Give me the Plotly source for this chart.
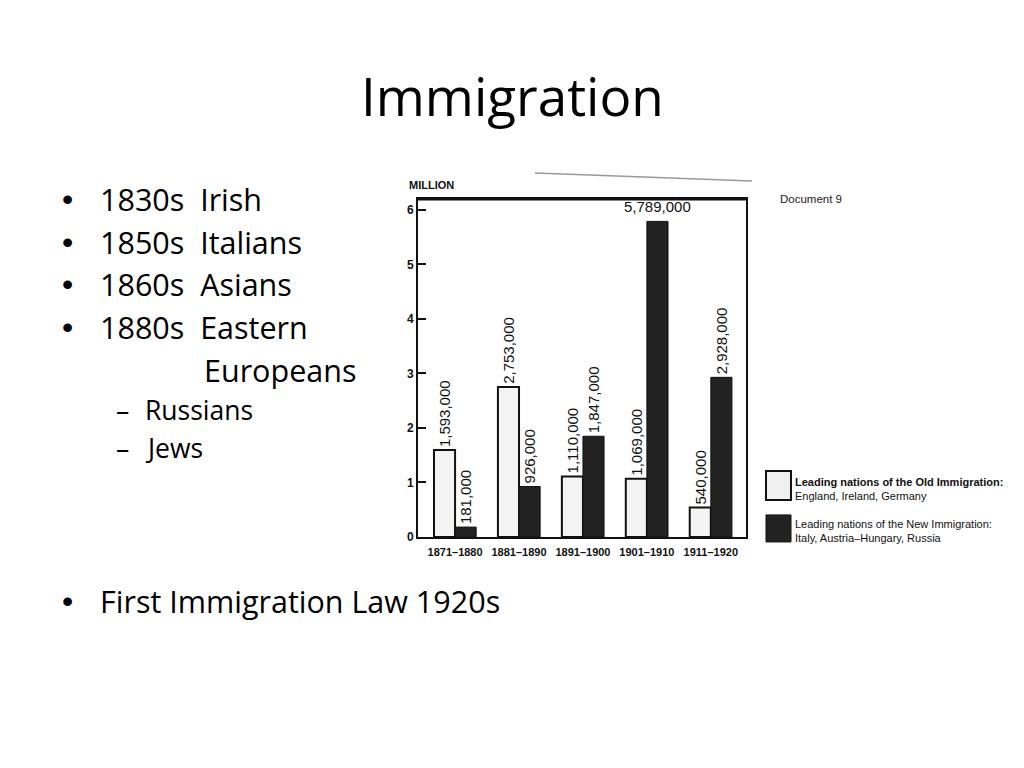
import plotly.graph_objects as go

# ---- data ----
decades = ["1871–1880", "1881–1890", "1891–1900", "1901–1910", "1911–1920"]
old_immigration = [1593000, 2753000, 1110000, 1069000, 540000]
new_immigration = [181000, 926000, 1847000, 5789000, 2928000]
y_ticks = [0, 1, 2, 3, 4, 5, 6]

bullets = ["1830s  Irish", "1850s  Italians", "1860s  Asians", "1880s  Eastern"]
sub_bullets = ["Russians", "Jews"]
last_bullet = "First Immigration Law 1920s"

# page body has an 8px margin; figure is sized to fit inside the 1024x768 window
OFF = 8
W, H = 1024 - 2 * OFF, 744
KY = 0.9907  # observed vertical scale of the rendered page
def px(x):
    return (x - OFF) / W
def py(y):
    return 1 - ((y - OFF) / KY) / H

old_m = [v / 1e6 for v in old_immigration]
new_m = [v / 1e6 for v in new_immigration]
vmax = max(new_immigration)
new_text = ["" if v == vmax else f"{v:,}" for v in new_immigration]
old_text = [f"{v:,}" for v in old_immigration]

lab_font = dict(family="Liberation Sans, Arial", size=15, color="#111")

fig = go.Figure()
fig.add_trace(go.Bar(
    x=decades, y=old_m, name="old",
    marker=dict(color="#f3f3f3", line=dict(color="#111", width=2)),
    text=old_text, textposition="outside", textangle=-90,
    textfont=lab_font, constraintext="none", cliponaxis=False,
))
fig.add_trace(go.Bar(
    x=decades, y=new_m, name="new",
    marker=dict(color="#222222", line=dict(color="#111", width=1)),
    text=new_text, textposition="outside", textangle=-90,
    textfont=lab_font, constraintext="none", cliponaxis=False,
))

annotations = []
# horizontal label for the tallest bar
imax = new_immigration.index(vmax)
annotations.append(dict(x=imax, y=vmax / 1e6, xref="x", yref="y", text=f"{vmax:,}",
                        showarrow=False, yanchor="bottom", xshift=11, yshift=4,
                        font=lab_font))

# title
annotations.append(dict(x=px(512), y=py(96), xref="paper", yref="paper", text="Immigration",
                        showarrow=False, xanchor="center", yanchor="middle",
                        font=dict(family="Open Sans", size=53, color="#000")))

body_font = dict(family="Open Sans", size=30.5, color="#000")
dot_font = dict(family="Liberation Sans, Arial", size=32, color="#000")
ys = [199, 242, 284, 327]
for t, yy in zip(bullets, ys):
    annotations.append(dict(x=px(67), y=py(yy), xref="paper", yref="paper", text="•",
                            showarrow=False, xanchor="center", yanchor="middle", font=dot_font))
    annotations.append(dict(x=px(98), y=py(yy), xref="paper", yref="paper", text=t,
                            showarrow=False, xanchor="left", yanchor="middle", font=body_font))
annotations.append(dict(x=px(202), y=py(370), xref="paper", yref="paper", text="Europeans",
                        showarrow=False, xanchor="left", yanchor="middle", font=body_font))
sub_font = dict(family="Open Sans", size=26.5, color="#000")
for t, yy in zip(sub_bullets, [410, 448]):
    annotations.append(dict(x=px(114), y=py(yy), xref="paper", yref="paper", text="–",
                            showarrow=False, xanchor="left", yanchor="middle", font=sub_font))
    annotations.append(dict(x=px(143), y=py(yy), xref="paper", yref="paper", text=t,
                            showarrow=False, xanchor="left", yanchor="middle", font=sub_font))
annotations.append(dict(x=px(67), y=py(601), xref="paper", yref="paper", text="•",
                        showarrow=False, xanchor="center", yanchor="middle", font=dot_font))
annotations.append(dict(x=px(98), y=py(601), xref="paper", yref="paper", text=last_bullet,
                        showarrow=False, xanchor="left", yanchor="middle", font=body_font))

# chart furniture
small_bold = dict(family="Liberation Sans, Arial", size=11, color="#111")
annotations.append(dict(x=px(407), y=py(185), xref="paper", yref="paper", text="<b>MILLION</b>",
                        showarrow=False, xanchor="left", yanchor="middle", font=small_bold))
annotations.append(dict(x=px(778), y=py(199), xref="paper", yref="paper", text="Document 9",
                        showarrow=False, xanchor="left", yanchor="middle",
                        font=dict(family="Liberation Sans, Arial", size=11.5, color="#222")))

leg_font = dict(family="Liberation Sans, Arial", size=11, color="#111")
annotations.append(dict(x=px(793), y=py(489), xref="paper", yref="paper",
                        text="<b>Leading nations of the Old Immigration:</b><br>England, Ireland, Germany",
                        showarrow=False, xanchor="left", yanchor="middle", align="left", font=leg_font))
annotations.append(dict(x=px(793), y=py(531), xref="paper", yref="paper",
                        text="Leading nations of the New Immigration:<br>Italy, Austria–Hungary, Russia",
                        showarrow=False, xanchor="left", yanchor="middle", align="left", font=leg_font))

shapes = [
    dict(type="rect", xref="paper", yref="paper", x0=px(766), x1=px(791), y0=py(500), y1=py(471),
         line=dict(color="#111", width=2), fillcolor="#f0f0f0"),
    dict(type="rect", xref="paper", yref="paper", x0=px(766), x1=px(791), y0=py(542), y1=py(515),
         line=dict(color="#111", width=1), fillcolor="#222222"),
    # thick top border of the chart frame
    dict(type="line", xref="paper", yref="paper", x0=px(418), x1=px(747), y0=py(199), y1=py(199),
         line=dict(color="#111", width=3)),
    # page edge of scan
    dict(type="line", xref="paper", yref="paper", x0=px(535), x1=px(752), y0=py(173), y1=py(181),
         line=dict(color="#999", width=1.5)),
]

fig.update_layout(
    width=W, height=H,
    margin=dict(l=0, r=0, t=0, b=0),
    paper_bgcolor="white", plot_bgcolor="white",
    showlegend=False,
    barmode="group", bargap=0.34, bargroupgap=0.0,
    annotations=annotations, shapes=shapes,
    xaxis=dict(domain=[px(418), px(746)], range=[-0.58, 4.55],
               showline=True, linecolor="#111", linewidth=2, mirror=True,
               ticks="", showgrid=False, ticklabelstandoff=4,
               tickfont=dict(family="Liberation Sans, Arial", size=11, color="#111"),
               tickprefix="<b>", ticksuffix="</b>"),
    yaxis=dict(domain=[py(537), py(199)], range=[0, 6.2],
               tickvals=y_ticks, ticktext=[f"<b>{t}</b>" for t in y_ticks],
               showline=True, linecolor="#111", linewidth=2, mirror=True,
               ticks="inside", ticklen=8, tickwidth=2, tickcolor="#111",
               showgrid=False, zeroline=False,
               tickfont=dict(family="Liberation Sans, Arial", size=12, color="#111")),
)

fig.write_html("out.html")
